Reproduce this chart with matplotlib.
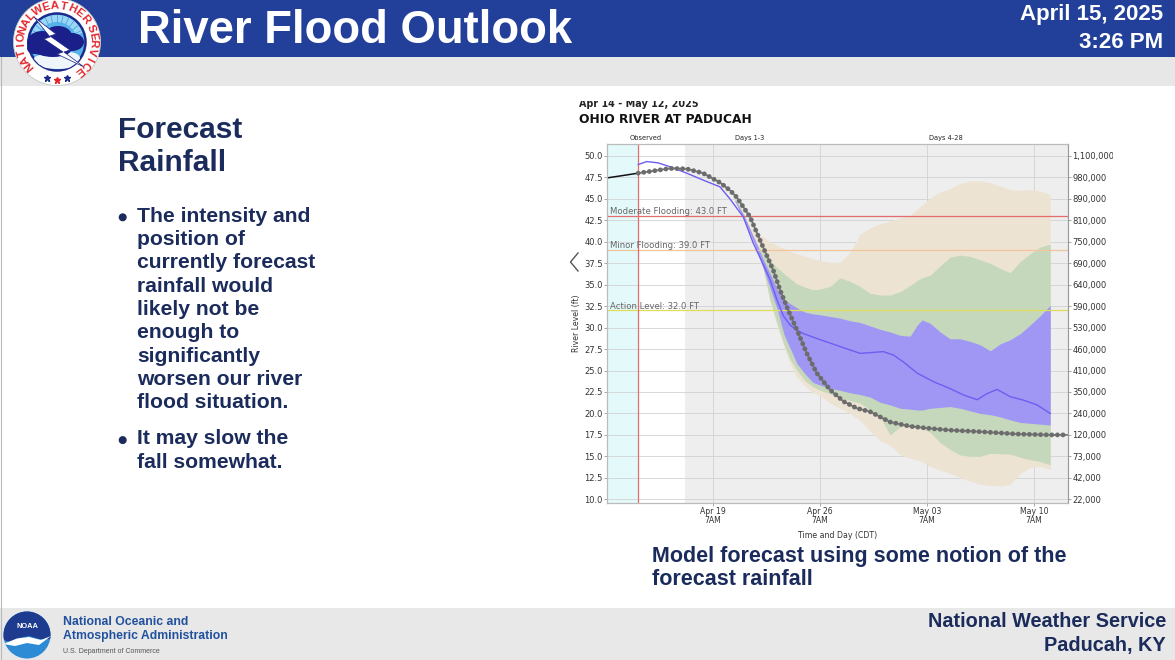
import numpy as np
import matplotlib
matplotlib.use("Agg")
import matplotlib.pyplot as plt
from matplotlib.patches import Rectangle, Circle, Polygon, Ellipse, Wedge
from matplotlib.transforms import blended_transform_factory

W, H = 1175, 660

# ---------------- data ----------------
# x: days since Apr 14 00:00 CDT ; y: river stage (ft)
obs_days = [-1.59, -0.76, 0.43]
obs_stage = [47.45, 47.67, 48.0]

fcst_days = [0.43, 1.39, 2.50, 3.59, 4.66, 5.77, 6.42, 6.86, 7.73, 8.58, 9.25, 9.69,
             10.22, 10.80, 11.44, 12.09, 12.96, 13.84, 14.71, 15.58, 16.88, 18.19,
             19.50, 20.80, 22.98, 25.16, 27.34, 28.43]
fcst_stage = [48.0, 48.25, 48.55, 48.5, 48.0, 46.9, 46.0, 45.2, 42.9, 39.4, 36.7, 34.4,
              32.05, 29.7, 27.0, 24.7, 22.75, 21.4, 20.6, 20.2, 19.0, 18.5,
              18.25, 18.05, 17.85, 17.6, 17.5, 17.5]

med_days = [0.43, 0.98, 1.72, 2.50, 3.59, 4.66, 5.77, 6.42, 7.29, 7.93, 8.58, 9.04, 9.50,
            9.90, 10.35, 10.80, 11.22, 12.31, 13.61, 14.92, 16.44, 17.10, 17.75, 18.65,
            19.71, 20.80, 21.67, 22.57, 23.20, 23.86, 24.73, 25.59, 26.47, 27.34]
med_stage = [49.0, 49.35, 49.2, 48.75, 48.0, 47.2, 46.4, 45.0, 42.9, 39.9, 37.4, 35.6, 33.2,
             31.4, 30.3, 29.7, 29.3, 28.6, 27.8, 27.0, 27.2, 26.8, 26.0, 24.7,
             23.7, 22.9, 22.15, 21.6, 22.3, 22.8, 21.95, 21.55, 21.0, 20.0]

band_days = [6.75, 7.40, 8.06, 8.58, 9.04, 9.50, 9.95, 10.35, 10.80, 11.33, 11.85, 12.31,
             12.96, 13.61, 14.27, 14.92, 15.58, 16.23, 16.88, 17.54, 18.19, 18.65, 18.97,
             19.50, 20.15, 20.80, 21.46, 22.11, 22.76, 23.42, 24.07, 24.73, 25.38, 26.03,
             26.69, 27.34]
blue_lo = [44.7, 42.4, 39.6, 37.0, 34.6, 32.2, 29.2, 27.6, 25.8, 24.6, 23.6, 23.3,
           22.9, 22.7, 22.4, 22.2, 21.9, 21.3, 21.0, 20.6, 20.5, 20.4, 20.4,
           20.6, 20.7, 20.8, 20.6, 20.3, 20.0, 19.85, 19.6, 19.25, 18.95, 18.85, 18.75, 18.65]
blue_hi = [44.9, 42.8, 40.2, 38.0, 36.3, 34.5, 33.3, 32.8, 32.3, 31.8, 31.6, 31.5,
           31.3, 31.1, 30.8, 30.6, 30.2, 29.8, 29.5, 29.1, 29.0, 30.3, 30.9,
           30.5, 29.5, 28.7, 28.7, 28.4, 28.0, 27.3, 28.1, 28.6, 29.3, 30.3, 31.4, 32.6]
green_lo = [44.75, 42.8, 39.7, 37.0, 33.2, 30.5, 28.0, 26.3, 25.0, 23.8, 23.1, 22.7,
            22.3, 21.9, 21.5, 21.2, 20.4, 19.6, 17.5, 18.45, 18.45, 18.4, 18.2,
            17.8, 16.6, 15.8, 15.15, 15.0, 15.0, 15.35, 15.3, 15.25, 14.9, 14.6, 14.4, 14.0]
green_hi = [45.3, 42.95, 40.0, 38.8, 37.8, 37.0, 36.3, 35.7, 35.1, 34.7, 34.4, 34.5,
            34.8, 35.8, 35.4, 34.8, 34.0, 33.8, 33.8, 34.2, 34.9, 35.5, 35.8,
            36.1, 37.2, 38.2, 38.45, 38.3, 37.9, 37.5, 36.9, 36.4, 37.7, 38.6, 39.4, 39.7]
tan_lo = [44.7, 42.8, 39.6, 36.8, 33.0, 30.2, 27.7, 25.8, 24.2, 23.2, 22.4, 22.1,
          21.2, 20.6, 20.0, 19.2, 17.9, 16.8, 16.3, 15.15, 14.8, 14.55, 14.35,
          13.8, 13.4, 13.0, 12.5, 12.1, 11.75, 11.6, 11.55, 11.75, 13.0, 13.7, 13.8, 13.45]
tan_hi = [45.4, 43.1, 41.0, 40.6, 40.0, 39.6, 39.2, 38.9, 38.6, 38.3, 38.0, 37.8,
          37.6, 37.6, 38.8, 40.9, 41.6, 42.1, 42.4, 42.8, 43.1, 43.8, 44.3,
          45.1, 45.8, 46.2, 46.8, 47.1, 47.1, 46.9, 46.5, 46.1, 46.0, 46.1, 45.9, 45.5]

now_day = 0.43
days13_end = 3.48
x_min, x_max = -1.59, 28.5
y_min, y_max = 9.6, 51.36

flood_levels = [43.0, 39.0, 32.0]
flood_names = ["Moderate Flooding", "Minor Flooding", "Action Level"]
flood_colors = ["#e46c6c", "#f2c49a", "#e0dc5c"]

stage_ticks = [10.0, 12.5, 15.0, 17.5, 20.0, 22.5, 25.0, 27.5, 30.0, 32.5, 35.0,
               37.5, 40.0, 42.5, 45.0, 47.5, 50.0]
flow_labels = ["22,000", "42,000", "73,000", "120,000", "240,000", "350,000", "410,000",
               "460,000", "530,000", "590,000", "640,000", "690,000", "750,000",
               "810,000", "890,000", "980,000", "1,100,000"]

xtick_days = [5.29, 12.29, 19.29, 26.29]
xtick_labels = ["Apr 19\n7AM", "Apr 26\n7AM", "May 03\n7AM", "May 10\n7AM"]

period_labels = ["Observed", "Days 1-3", "Days 4-28"]
period_label_days = [0.93, 7.73, 20.5]

bullet1 = ["The intensity and", "position of", "currently forecast", "rainfall would",
           "likely not be", "enough to", "significantly", "worsen our river",
           "flood situation."]
bullet2 = ["It may slow the", "fall somewhat."]
caption = ["Model forecast using some notion of the", "forecast rainfall"]

# ---------------- figure / slide ----------------
fig = plt.figure(figsize=(W / 100, H / 100), dpi=100)
fig.patch.set_facecolor("white")
sa = fig.add_axes([0, 0, 1, 1], zorder=0)
sa.set_xlim(0, W)
sa.set_ylim(H, 0)
sa.axis("off")

NAVY = "#1b2c5c"
SF = "Liberation Sans"

sa.add_patch(Rectangle((0, 0), W, 57, fc="#22409a", ec="none", zorder=1))
sa.add_patch(Rectangle((0, 57), W, 29, fc="#e7e7e7", ec="none", zorder=1))
sa.add_patch(Rectangle((0, 608), W, 52, fc="#e8e8e8", ec="none", zorder=1))
sa.plot([1.2, 1.2], [57, 660], color="#b8b8b8", lw=0.8, zorder=2)

sa.text(138, 43, "River Flood Outlook", fontsize=32.8, fontweight="bold", color="white",
        family=SF, va="baseline", ha="left", zorder=5)
sa.text(1163, 20, "April 15, 2025", fontsize=16, fontweight="bold", color="white",
        family=SF, va="baseline", ha="right", zorder=5)
sa.text(1163, 48.3, "3:26 PM", fontsize=16, fontweight="bold", color="white",
        family=SF, va="baseline", ha="right", zorder=5)


def circ_pts(cx, cy, r, a0, a1, n=60):
    t = np.radians(np.linspace(a0, a1, n))
    return np.column_stack([cx + r * np.cos(t), cy - r * np.sin(t)])


# NWS logo
cx, cy = 57, 42
sa.add_patch(Circle((cx, cy), 43.5, fc="white", ec="#c8c8c8", lw=0.6, zorder=2))
inner = Circle((cx, cy), 28.5, fc="#56b3e9", ec="#1c2a8c", lw=1.8, zorder=3)
sa.add_patch(inner)
sa.add_patch(Wedge((cx, cy), 27, 200, 340, width=7, fc="#9ad7f6", ec="none", zorder=3.2))
for a in np.arange(25, 160, 13):
    p = circ_pts(cx, cy, 20, a, a, 2)
    q = circ_pts(cx, cy, 27, a, a, 2)
    sa.plot([p[0, 0], q[0, 0]], [p[0, 1], q[0, 1]], color="#3f9ad8", lw=0.5, zorder=3.3)
for (ex, ey, ew, eh) in [(48, 60, 30, 12), (68, 58, 24, 12), (58, 64, 40, 10)]:
    e = Ellipse((ex, ey), ew, eh, fc="#eef6fc", ec="none", zorder=3.4)
    sa.add_patch(e)
    e.set_clip_path(inner)
for (ex, ey, ew, eh) in [(42, 43, 30, 24), (58, 36, 28, 20), (72, 42, 24, 18),
                         (53, 50, 36, 14), (34, 48, 14, 12)]:
    sa.add_patch(Ellipse((ex, ey), ew, eh, fc="#1b1f8a", ec="none", zorder=4))
bolt = [(34, 17), (56, 34), (50, 36), (70, 50), (64, 52), (84, 67), (57, 54), (63, 52),
        (44, 39), (50, 37)]
sa.add_patch(Polygon(bolt, closed=True, fc="white", ec="#1b1f8a", lw=0.5, zorder=5))


def arc_text(word, a0, step, r=36.3):
    for i, ch in enumerate(word):
        a = a0 - step * i
        x = cx + r * np.cos(np.radians(a))
        y = cy - r * np.sin(np.radians(a))
        sa.text(x, y, ch, fontsize=8.2, fontweight="bold", color="#e3262b", family=SF,
                ha="center", va="center", rotation=a - 90, zorder=6)


arc_text("NATIONAL", 221, 12.1)
arc_text("WEATHER", 121, 13.8)
arc_text("SERVICE", 22, 12.3)
sa.plot([47], [78], marker="*", ms=4.5, color="#1c2a8c", zorder=6)
sa.plot([57], [80], marker="*", ms=5, color="#e3262b", zorder=6)
sa.plot([67], [78], marker="*", ms=4.5, color="#1c2a8c", zorder=6)

# left text
sa.text(118, 138, "Forecast", fontsize=21.5, fontweight="bold", color=NAVY, family=SF,
        va="baseline", zorder=5)
sa.text(118, 171, "Rainfall", fontsize=21.5, fontweight="bold", color=NAVY, family=SF,
        va="baseline", zorder=5)
for i, line in enumerate(bullet1):
    sa.text(137, 221.7 + 23.3 * i, line, fontsize=15.2, fontweight="bold", color=NAVY,
            family=SF, va="baseline", zorder=5)
for i, line in enumerate(bullet2):
    sa.text(137, 444.5 + 23.3 * i, line, fontsize=15.2, fontweight="bold", color=NAVY,
            family=SF, va="baseline", zorder=5)
sa.add_patch(Circle((122.7, 217.3), 4.0, fc=NAVY, ec="none", zorder=5))
sa.add_patch(Circle((122.7, 440.1), 4.0, fc=NAVY, ec="none", zorder=5))

# caption
sa.text(652, 562.3, caption[0], fontsize=15.5, fontweight="bold", color=NAVY, family=SF,
        va="baseline", zorder=5)
sa.text(652, 585, caption[1], fontsize=15.5, fontweight="bold", color=NAVY, family=SF,
        va="baseline", zorder=5)

# chevron
sa.plot([578, 570.5, 578], [253, 262, 271], color="#555555", lw=1.0, zorder=5)

# chart title
sa.text(579, 107.3, "Apr 14 - May 12, 2025", fontsize=6.9, fontweight="bold", color="#222222",
        family="DejaVu Sans", va="baseline", zorder=5)
sa.text(579, 123.3, "OHIO RIVER AT PADUCAH", fontsize=8.8, fontweight="bold", color="#111111",
        family="DejaVu Sans", va="baseline", zorder=5)

# footer
nx, ny, nr = 27, 635, 23.5
ncirc = Circle((nx, ny), nr, fc="#2d8bd6", ec="none", zorder=2)
sa.add_patch(ncirc)
arc = circ_pts(nx, ny, nr, 192, -10, 50)
curve = np.array([(nx + 12, ny + 4), (nx + 2, ny + 1), (nx - 8, ny + 3), (nx - 18, ny + 7)])
sa.add_patch(Polygon(np.vstack([arc, curve]), closed=True, fc="#1d3c8f", ec="none", zorder=3))
sw = Polygon([(nx - 24, ny + 9), (nx - 10, ny + 3.5), (nx + 2, ny + 2), (nx + 14, ny + 5),
              (nx + 24, ny + 1), (nx + 12, ny + 10), (nx, ny + 8), (nx - 12, ny + 11)],
             closed=True, fc="white", ec="none", zorder=4)
sa.add_patch(sw)
sw.set_clip_path(ncirc)
sa.text(nx, ny - 9, "NOAA", fontsize=5.4, fontweight="bold", color="white", family=SF,
        ha="center", va="center", zorder=5)
sa.text(63, 625, "National Oceanic and", fontsize=8.8, fontweight="bold", color="#21519e",
        family=SF, va="baseline", zorder=5)
sa.text(63, 638.5, "Atmospheric Administration", fontsize=8.8, fontweight="bold",
        color="#21519e", family=SF, va="baseline", zorder=5)
sa.text(63, 653, "U.S. Department of Commerce", fontsize=5.0, color="#555555", family=SF,
        va="baseline", zorder=5)
sa.text(1166, 627, "National Weather Service", fontsize=14.3, fontweight="bold", color=NAVY,
        family=SF, va="baseline", ha="right", zorder=5)
sa.text(1166, 651, "Paducah, KY", fontsize=14.3, fontweight="bold", color=NAVY,
        family=SF, va="baseline", ha="right", zorder=5)

# ---------------- hydrograph ----------------
ax = fig.add_axes([607.3 / W, 1 - 502.7 / H, (1068 - 607.3) / W, (502.7 - 144.3) / H], zorder=3)
ax.set_facecolor("white")
ax.set_xlim(x_min, x_max)
ax.set_ylim(y_min, y_max)
ax.axvspan(x_min, now_day, color="#e4fafa", lw=0, zorder=0.1)
ax.axvspan(days13_end, x_max, color="#eeeeee", lw=0, zorder=0.1)
ax.set_axisbelow(True)
ax.grid(True, color="#d2d2d2", lw=0.6)

ax.fill_between(band_days, tan_lo, tan_hi, color="#ede3d3", lw=0, zorder=1.0)
ax.fill_between(band_days, green_lo, green_hi, color="#c6d8bc", lw=0, zorder=1.1)
ax.fill_between(band_days, blue_lo, blue_hi, color="#a097f5", lw=0, zorder=1.2)

for lvl, name, col in zip(flood_levels, flood_names, flood_colors):
    ax.axhline(lvl, color=col, lw=0.9, zorder=2)
    ax.text(-1.42, lvl + 0.22, f"{name}: {lvl:.1f} FT", fontsize=6.1, color="#666666",
            va="baseline", ha="left", zorder=4)
ax.axvline(now_day, color="#e46c6c", lw=0.9, zorder=2)

ax.plot(med_days, med_stage, color="#6c5ef0", lw=1.0, zorder=2.5)
ax.plot(obs_days, obs_stage, color="#111111", lw=1.1, zorder=3)
ax.plot(fcst_days, fcst_stage, color="#777777", lw=1.3, zorder=3)
ax.plot(fcst_days, fcst_stage, color="#6c6c6c", lw=3.5, linestyle=(0, (0.001, 1.15)),
        dash_capstyle="round", zorder=3.1)

trans = blended_transform_factory(ax.transData, ax.transAxes)
for lab, d in zip(period_labels, period_label_days):
    ax.text(d, 1.018, lab, transform=trans, fontsize=4.8, color="#222222", ha="center",
            va="center")

ax.set_yticks(stage_ticks)
ax.set_yticklabels([f"{v:.1f}" for v in stage_ticks])
ax.set_xticks(xtick_days)
ax.set_xticklabels(xtick_labels)
for lab in ax.get_xticklabels():
    lab.set_linespacing(1.0)
ax.tick_params(axis="both", labelsize=6, labelcolor="#333333", color="#999999",
               length=2.2, width=0.6, pad=1)
ax.tick_params(axis="x", labelsize=5.6)
for sp in ax.spines.values():
    sp.set_color("#bbbbbb")
    sp.set_linewidth(0.8)
ax.set_xlabel("Time and Day (CDT)", fontsize=5.6, color="#333333", labelpad=4)
ax.set_ylabel("River Level (ft)", fontsize=5.6, color="#333333", labelpad=2)

ax2 = ax.twinx()
ax2.set_ylim(y_min, y_max)
ax2.set_yticks(stage_ticks)
ax2.set_yticklabels(flow_labels)
ax2.tick_params(axis="y", labelsize=6, labelcolor="#333333", color="#999999",
                length=2.2, width=0.6, pad=1)
for k, sp in ax2.spines.items():
    sp.set_color("#999999" if k == "right" else "#bbbbbb")
    sp.set_linewidth(0.8)

# crop edges of the embedded chart image
fig.add_artist(Rectangle((1113 / W, 1 - 545 / H), (W - 1113) / W, (545 - 95) / H,
                         transform=fig.transFigure, fc="white", ec="none", zorder=10))
fig.add_artist(Rectangle((575 / W, 1 - 100.5 / H), (720 - 575) / W, (100.5 - 86.5) / H,
                         transform=fig.transFigure, fc="white", ec="none", zorder=10))

fig.savefig("out.png", dpi=100, facecolor="white")
